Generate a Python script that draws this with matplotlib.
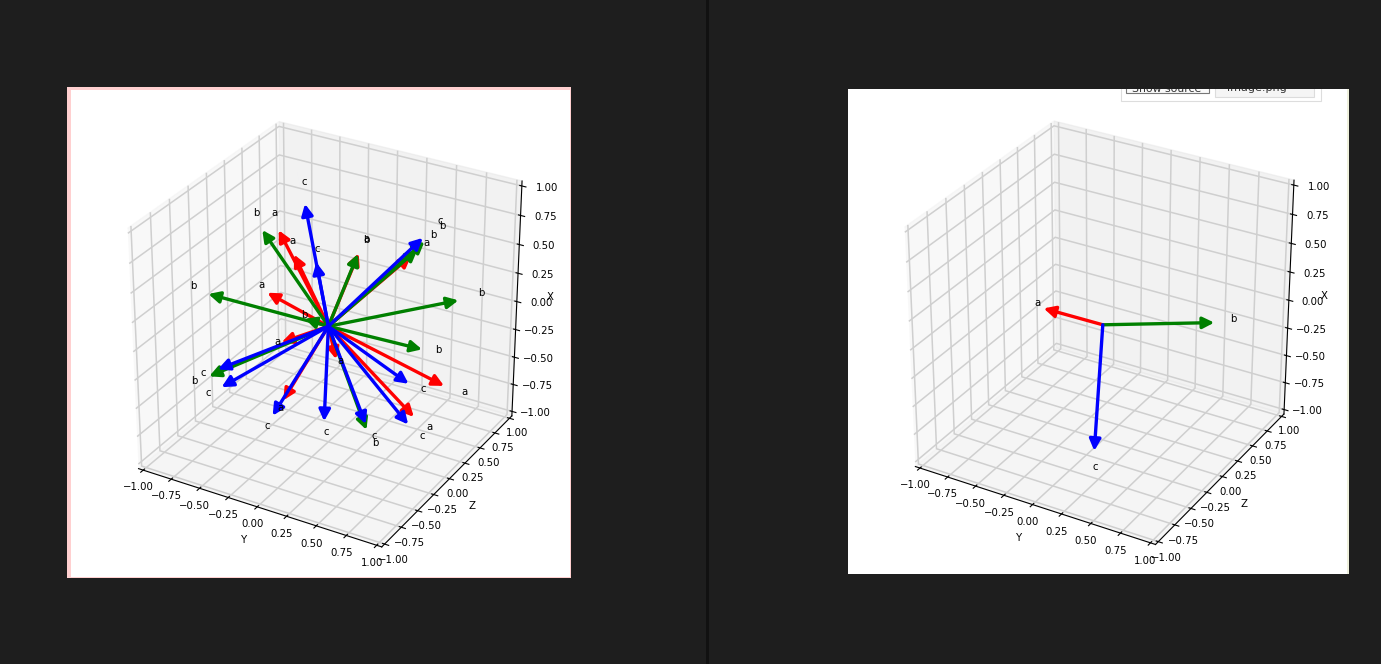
import numpy as np
import matplotlib
matplotlib.use('Agg')
import matplotlib.pyplot as plt
from matplotlib.patches import Rectangle, FancyArrowPatch
from mpl_toolkits.mplot3d import proj3d

W, H = 1381, 664
plt.rcParams['grid.color'] = '#cfcfcf'
plt.rcParams['grid.linewidth'] = 1.1
plt.rcParams['axes3d.automargin'] = True

# vectors in plotted order (Y, Z, X)
vecs_a = [(-0.75, 0.54, 0.38), (-0.71, 0.7, 0.1), (-0.84, 0.51, -0.19), (0.41, -0.28, 0.87), (0.17, 0.97, 0.2),
          (0.15, -0.92, 0.37), (-0.3, 0.64, -0.71), (0.97, 0.01, -0.24), (0.6, 0.25, -0.76), (-0.47, 0.12, -0.87)]
vecs_b = [(-0.81, 0.4, 0.43), (-0.63, -0.65, 0.42), (0.27, -0.8, 0.54), (0.41, -0.29, 0.87), (0.59, 0.38, 0.71),
          (0.25, 0.92, 0.3), (0.73, 0.68, 0.1), (0.38, 0.78, -0.49), (-0.78, -0.44, -0.45), (0.68, -0.63, -0.37)]
vecs_c = [(-0.22, 0.04, 0.97), (0.19, -0.5, 0.84), (0.56, 0.41, 0.72), (-0.39, -0.92, -0.02), (-0.73, -0.35, -0.58),
          (-0.44, -0.09, -0.89), (-0.13, 0.16, -0.98), (0.69, -0.66, -0.3), (0.6, 0.16, -0.78), (0.37, 0.59, -0.71)]
single_a = [(-0.01, -0.83, 0.55)]
single_b = [(0.52, 0.82, -0.24)]
single_c = [(0.32, -0.68, -0.66)]
label_scale = 1.15


class Arrow3D(FancyArrowPatch):
    def __init__(self, vec, **kwargs):
        super().__init__((0, 0), (0, 0), arrowstyle='-|>', mutation_scale=17, lw=2.4,
                         shrinkA=0, shrinkB=0, **kwargs)
        self.vec = vec

    def do_3d_projection(self, renderer=None):
        xs, ys, zs = proj3d.proj_transform(*[np.array([0, v]) for v in self.vec], self.axes.get_proj())
        self.set_positions((xs[0], ys[0]), (xs[1], ys[1]))
        return np.min(zs)


def px_axes(fig, left, top, right, bottom, **kw):
    return fig.add_axes([left/W, 1-bottom/H, (right-left)/W, (bottom-top)/H], **kw)


def make_3d(fig, rect, zpad):
    ax = px_axes(fig, *rect, projection='3d')
    ax.apply_aspect = lambda position=None: None  # screenshot is slightly squashed
    ax.set_box_aspect((1, 1, 1))
    ax.computed_zorder = False
    ax.patch.set_alpha(0)
    ax.set_xlim(-1, 1)
    ax.set_ylim(-1, 1)
    ax.set_zlim(-1, 1)
    ax.set_xlabel('Y', fontsize=7.3, labelpad=-5)
    ax.set_ylabel('Z', fontsize=7.3, labelpad=-5)
    ax.set_zlabel('X', fontsize=7.3, labelpad=zpad)
    ax.tick_params(labelsize=7.3)
    ax.tick_params(axis='x', pad=-2)
    ax.tick_params(axis='y', pad=-2)
    ax.set_zorder(1)
    return ax


def draw_vecs(ax, vecs, name, col):
    for v in vecs:
        ax.add_artist(Arrow3D(v, color=col))
        ax.text(label_scale*v[0], label_scale*v[1], label_scale*v[2], name, fontsize=7.3)


fig = plt.figure(figsize=(W/100, H/100), dpi=100, facecolor='#1e1e1e')
bg = fig.add_axes([0, 0, 1, 1], zorder=0)
bg.set_xlim(0, W)
bg.set_ylim(H, 0)
bg.axis('off')
bg.add_patch(Rectangle((67, 87), 504, 491, fc='#ffd0d0', ec='none'))
bg.add_patch(Rectangle((71, 90), 499.5, 487, fc='white', ec='none'))
bg.add_patch(Rectangle((848, 89), 501, 485, fc='white', ec='none'))
bg.add_patch(Rectangle((1347.5, 89), 1.5, 485, fc='#eef0dc', ec='none'))
bg.add_patch(Rectangle((706, 0), 3, H, fc='#111111', ec='none'))

ax1 = make_3d(fig, (86, 102, 558, 563), -5)
ax2 = make_3d(fig, (863.5, 101.5, 1329.5, 560.5), -4)

draw_vecs(ax1, vecs_a, 'a', 'red')
draw_vecs(ax1, vecs_b, 'b', 'green')
draw_vecs(ax1, vecs_c, 'c', 'blue')
draw_vecs(ax2, single_a, 'a', 'red')
draw_vecs(ax2, single_b, 'b', 'green')
draw_vecs(ax2, single_c, 'c', 'blue')

# widget cut by the top of the right panel
top = px_axes(fig, 848, 89, 1349, 574, zorder=2)
top.set_xlim(848, 1349)
top.set_ylim(574, 89)
top.axis('off')
top.add_patch(Rectangle((1120.5, 70), 200, 31, fc='white', ec='#dddddd', lw=0.8))
top.add_patch(Rectangle((1126, 70), 83, 23, fc='#fafafa', ec='#777777', lw=0.8))
top.add_patch(Rectangle((1215, 70), 99, 27, fc='#f5f5f5', ec='#dcdcdc', lw=0.8))
top.text(1167, 91.5, 'Show source', ha='center', va='baseline', fontsize=7.8, color='#333333', clip_on=True)
top.text(1257, 91, 'image.png', ha='center', va='baseline', fontsize=8, color='#333333', clip_on=True)

fig.savefig('out.png', dpi=100, facecolor=fig.get_facecolor())
